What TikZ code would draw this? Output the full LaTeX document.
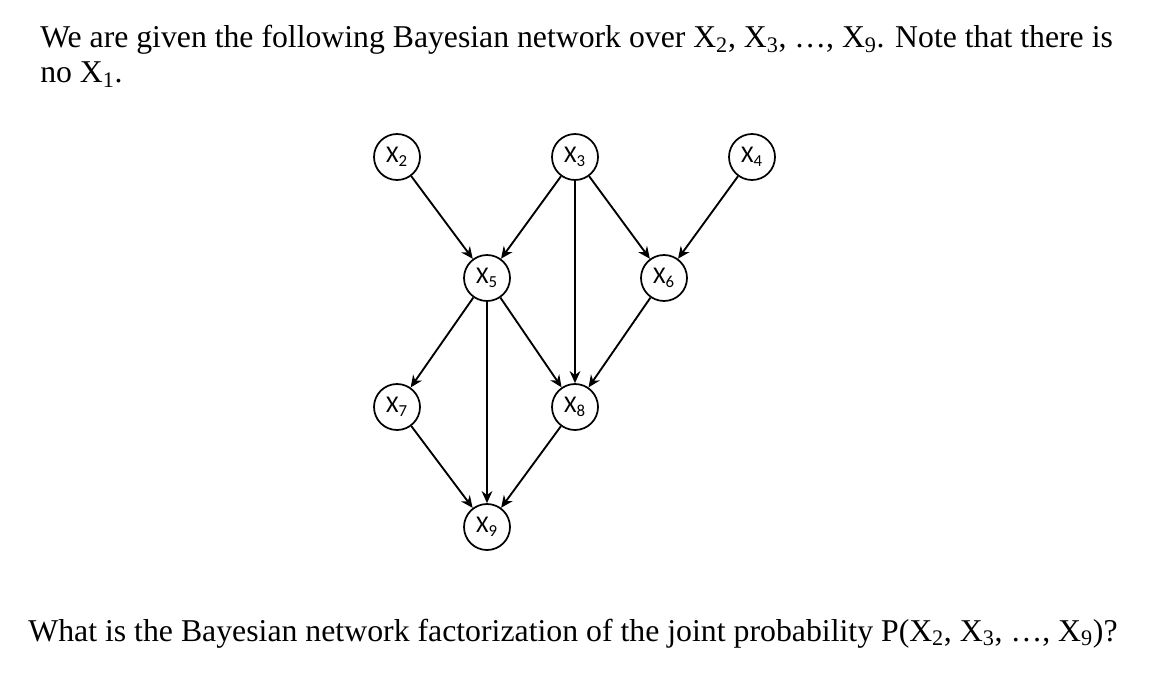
\documentclass[tikz,border=0pt]{standalone}
\usepackage{fontspec}
\setmainfont{Liberation Serif}
\newfontfamily\nodefont{Carlito}
\usetikzlibrary{arrows.meta}
\begin{document}
\begin{tikzpicture}[x=0.75pt,y=-0.75pt,
  var/.style={circle,draw,line width=1.3pt,minimum size=46*0.75pt,inner sep=0pt,font=\nodefont\fontsize{18}{18}\selectfont},
  edge/.style={line width=1.4pt,-{Stealth[length=9pt,width=8pt]}},
  txt/.style={font=\fontsize{23.8}{28}\selectfont,inner sep=0pt,anchor=base west}]
\useasboundingbox (0,0) rectangle (1156,674);
\node[txt] (t1) at (40,48) {We are given the following Bayesian network over X\textsubscript{2}, X\textsubscript{3}, \dots, X\textsubscript{9}. Note that there is};
\node[txt] (t2) at (40,83) {no X\textsubscript{1}.};
\node[txt] (t3) at (28,641) {\resizebox{817pt}{\height}{What is the Bayesian network factorization of the joint probability P(X\textsubscript{2}, X\textsubscript{3}, \dots, X\textsubscript{9})?}};
\node[var] (x2) at (397,157) {X\textsubscript{2}};
\node[var] (x3) at (575,157) {X\textsubscript{3}};
\node[var] (x4) at (752,157) {X\textsubscript{4}};
\node[var] (x5) at (487,278) {X\textsubscript{5}};
\node[var] (x6) at (664,278) {X\textsubscript{6}};
\node[var] (x7) at (397,407) {X\textsubscript{7}};
\node[var] (x8) at (575,407) {X\textsubscript{8}};
\node[var] (x9) at (487,527) {X\textsubscript{9}};
\draw[edge] (x2) -- (x5);
\draw[edge] (x3) -- (x5);
\draw[edge] (x3) -- (x6);
\draw[edge] (x3) -- (x8);
\draw[edge] (x4) -- (x6);
\draw[edge] (x5) -- (x7);
\draw[edge] (x5) -- (x8);
\draw[edge] (x5) -- (x9);
\draw[edge] (x6) -- (x8);
\draw[edge] (x7) -- (x9);
\draw[edge] (x8) -- (x9);
\end{tikzpicture}
\end{document}
